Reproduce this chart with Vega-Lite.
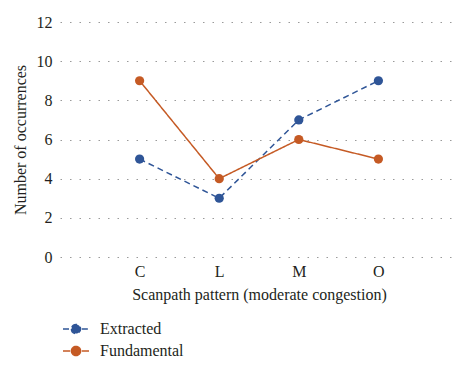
{
  "$schema": "https://vega.github.io/schema/vega-lite/v6.json",
  "width": 398,
  "height": 235,
  "autosize": {"type": "none"},
  "padding": {"left": 60, "top": 22, "right": 16, "bottom": 115},
  "background": "white",
  "config": {
    "font": "DejaVu Serif",
    "view": {"stroke": null},
    "axis": {"labelFont": "Liberation Serif, DejaVu Serif, serif", "titleFont": "Liberation Serif, DejaVu Serif, serif", "labelColor": "#231f20", "titleColor": "#231f20", "titleFontWeight": "normal"}
  },
  "data": {
    "values": [
      {"pattern": "C", "series": "Extracted", "count": 5},
      {"pattern": "L", "series": "Extracted", "count": 3},
      {"pattern": "M", "series": "Extracted", "count": 7},
      {"pattern": "O", "series": "Extracted", "count": 9},
      {"pattern": "C", "series": "Fundamental", "count": 9},
      {"pattern": "L", "series": "Fundamental", "count": 4},
      {"pattern": "M", "series": "Fundamental", "count": 6},
      {"pattern": "O", "series": "Fundamental", "count": 5}
    ]
  },
  "encoding": {
    "x": {
      "field": "pattern", "type": "nominal", "sort": ["C", "L", "M", "O"],
      "scale": {"type": "point", "padding": 1},
      "axis": {"title": "Scanpath pattern (moderate congestion)", "labelAngle": 0, "domain": false, "ticks": false, "grid": false, "labelFontSize": 16, "titleFontSize": 16, "labelPadding": 6, "titlePadding": 7}
    },
    "y": {
      "field": "count", "type": "quantitative",
      "scale": {"domain": [0, 12]},
      "axis": {"title": "Number of occurrences", "values": [0, 2, 4, 6, 8, 10, 12], "domain": false, "ticks": false, "grid": true, "gridColor": "#9a9a9a", "gridDash": [1.5, 8], "gridWidth": 1, "labelFontSize": 16, "titleFontSize": 16, "labelPadding": 8, "titlePadding": 8}
    },
    "color": {
      "field": "series", "type": "nominal",
      "scale": {"domain": ["Extracted", "Fundamental"], "range": ["#2f5597", "#c55a24"]},
      "legend": {
        "title": null, "orient": "none", "legendX": 2, "legendY": 293,
        "symbolType": "M-1,0H-0.45M0.45,0H1M-0.35,0a0.35,0.35 0 1,0 0.7,0a0.35,0.35 0 1,0 -0.7,0",
        "symbolSize": 676, "symbolStrokeWidth": 1.5, "labelFontSize": 16, "labelFont": "Liberation Serif, DejaVu Serif, serif", "labelColor": "#231f20",
        "labelOffset": 10, "rowPadding": -4,
        "encode": {"symbols": {"update": {"fill": {"scale": "color", "field": "value"}}}}
      }
    }
  },
  "layer": [
    {
      "mark": {"type": "line", "strokeWidth": 1.5},
      "encoding": {
        "strokeDash": {"field": "series", "type": "nominal", "scale": {"domain": ["Extracted", "Fundamental"], "range": [[6, 4], [1, 0]]}, "legend": null}
      }
    },
    {
      "mark": {"type": "point", "filled": true, "size": 85, "opacity": 1}
    }
  ]
}
